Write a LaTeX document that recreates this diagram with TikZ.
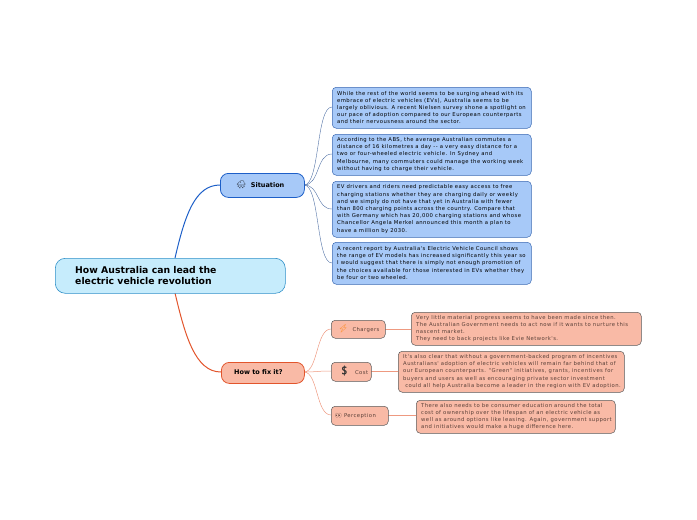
\documentclass[tikz,border=0pt]{standalone}
\usepackage{fontspec}
\setmainfont{DejaVu Sans}
\newfontfamily\sm{DejaVu Sans}[LetterSpace=8]
\newfontfamily\emo{Noto Emoji}
\definecolor{rootf}{HTML}{C6ECFC}\definecolor{rootd}{HTML}{2E8FC8}
\definecolor{bluef}{HTML}{A7C9F8}\definecolor{blued}{HTML}{1D5FC8}
\definecolor{redf}{HTML}{F9BAA6}\definecolor{redd}{HTML}{E2552C}
\definecolor{graytxt}{HTML}{5A4038}
\tikzset{
 bx/.style={draw, rounded corners=4pt, inner sep=0pt, anchor=north west},
 txt/.style={font=\sm\fontsize{5.3}{7.2}\selectfont, align=left, anchor=west, inner sep=0pt},
 bl/.style={bx, fill=bluef, draw=blued!70!gray, line width=0.5pt},
 rd/.style={bx, fill=redf, draw=gray!70!black, line width=0.5pt},
 lb/.style={draw=blued!50!gray, line width=0.4pt},
 lr/.style={draw=redd!60, line width=0.5pt},
}
\begin{document}
\begin{tikzpicture}[x=1pt,y=-1pt]
\useasboundingbox (0,0) rectangle (697,520);
% connectors
\coordinate (rt) at (175,258); \coordinate (rb) at (175,293);
\draw[blued, line width=1pt] (rt) .. controls (185,215) and (195,185) .. (220,185);
\draw[redd, line width=1pt] (rb) .. controls (185,335) and (195,372) .. (221,372);
\foreach \y in {107,154,209,263}{\draw[lb] (304,185) .. controls (320,185) and (316,\y) .. (332,\y);}
\foreach \y/\e in {329/331,371/331,415/331}{\draw[lr] (304,372) .. controls (318,372) and (316,\y) .. (\e,\y);}
\draw[lr] (385,329)--(411,329); \draw[lr] (371,371)--(398,371); \draw[lr] (388,415)--(416,415);
% root
\node[bx, fill=rootf, draw=rootd, line width=0.6pt, minimum width=230pt, minimum height=35pt, rounded corners=10pt] (root) at (55,258) {};
\node[txt, font=\bfseries\fontsize{9.3}{10.5}\selectfont] (rtx) at (75,275.5) {How Australia can lead the\\electric vehicle revolution};
% situation
\node[bl, draw=blued, fill=bluef, minimum width=84pt, minimum height=24pt, rounded corners=8pt, line width=0.8pt] (sit) at (220,173) {};
\node[txt, font=\bfseries\fontsize{6.5}{8}\selectfont] (sitx) at (236,185) {{\emo\fontsize{8}{8}\selectfont 🌨}\ \ Situation};
% situation boxes
\node[bl, minimum width=199pt, minimum height=41pt] (b1) at (332,87) {};
\node[txt] at (337,107.5) {While the rest of the world seems to be surging ahead with its\\embrace of electric vehicles (EVs), Australia seems to be\\largely oblivious. A recent Nielsen survey shone a spotlight on\\our pace of adoption compared to our European counterparts\\and their nervousness around the sector.};
\node[bl, minimum width=199pt, minimum height=41pt] (b2) at (332,134) {};
\node[txt] at (337,154.5) {According to the ABS, the average Australian commutes a\\distance of 16 kilometres a day -- a very easy distance for a\\two or four-wheeled electric vehicle. In Sydney and\\Melbourne, many commuters could manage the working week\\without having to charge their vehicle.};
\node[bl, minimum width=199pt, minimum height=56pt] (b3) at (332,181) {};
\node[txt] at (337,209) {EV drivers and riders need predictable easy access to free\\charging stations whether they are charging daily or weekly\\and we simply do not have that yet in Australia with fewer\\than 800 charging points across the country. Compare that\\with Germany which has 20,000 charging stations and whose\\Chancellor Angela Merkel announced this month a plan to\\have a million by 2030.};
\node[bl, minimum width=199pt, minimum height=42pt] (b4) at (332,242) {};
\node[txt] at (337,263) {A recent report by Australia's Electric Vehicle Council shows\\the range of EV models has increased significantly this year so\\I would suggest that there is simply not enough promotion of\\the choices available for those interested in EVs whether they\\be four or two wheeled.};
% fix
\node[rd, draw=redd, minimum width=83pt, minimum height=21pt, rounded corners=8pt, line width=0.8pt] (fix) at (221,362) {};
\node[txt, font=\bfseries\fontsize{6.5}{8}\selectfont] (fixx) at (234,372.5) {How to fix it?};
\node[rd, minimum width=54pt, minimum height=18pt] (ch) at (331,320) {};
\node[txt, text=graytxt, font=\sm\fontsize{5.3}{7}\selectfont] at (338,329) {{\emo\color{orange}\fontsize{8}{8}\selectfont ⚡}\ \ Chargers};
\node[rd, minimum width=40pt, minimum height=19pt] (co) at (331,362) {};
\node[txt, text=graytxt, font=\sm\fontsize{5.3}{7}\selectfont] at (338,371.5) {{\emo\color{black!80}\fontsize{10}{10}\selectfont 💲}\ \ Cost};
\node[rd, minimum width=57pt, minimum height=19pt] (pe) at (331,406) {};
\node[txt, text=graytxt, font=\sm\fontsize{5.3}{7}\selectfont] at (335,415.5) {{\emo 👀}\ Perception};
\node[rd, minimum width=230pt, minimum height=33pt] (c1) at (411,312) {};
\node[txt, text=graytxt] at (416,328.5) {Very little material progress seems to have been made since then.\\The Australian Government needs to act now if it wants to nurture this\\nascent market.\\They need to back projects like Evie Network's.};
\node[rd, minimum width=226pt, minimum height=41pt] (c2) at (398,351) {};
\node[txt, text=graytxt] at (403,371.5) {It's also clear that without a government-backed program of incentives\\Australians' adoption of electric vehicles will remain far behind that of\\our European counterparts. "Green" initiatives, grants, incentives for\\buyers and users as well as encouraging private sector investment\\\ could all help Australia become a leader in the region with EV adoption.};
\node[rd, minimum width=199pt, minimum height=33pt] (c3) at (416,400) {};
\node[txt, text=graytxt] at (421,416.5) {There also needs to be consumer education around the total\\cost of ownership over the lifespan of an electric vehicle as\\well as around options like leasing. Again, government support\\and initiatives would make a huge difference here.};
\end{tikzpicture}
\end{document}
